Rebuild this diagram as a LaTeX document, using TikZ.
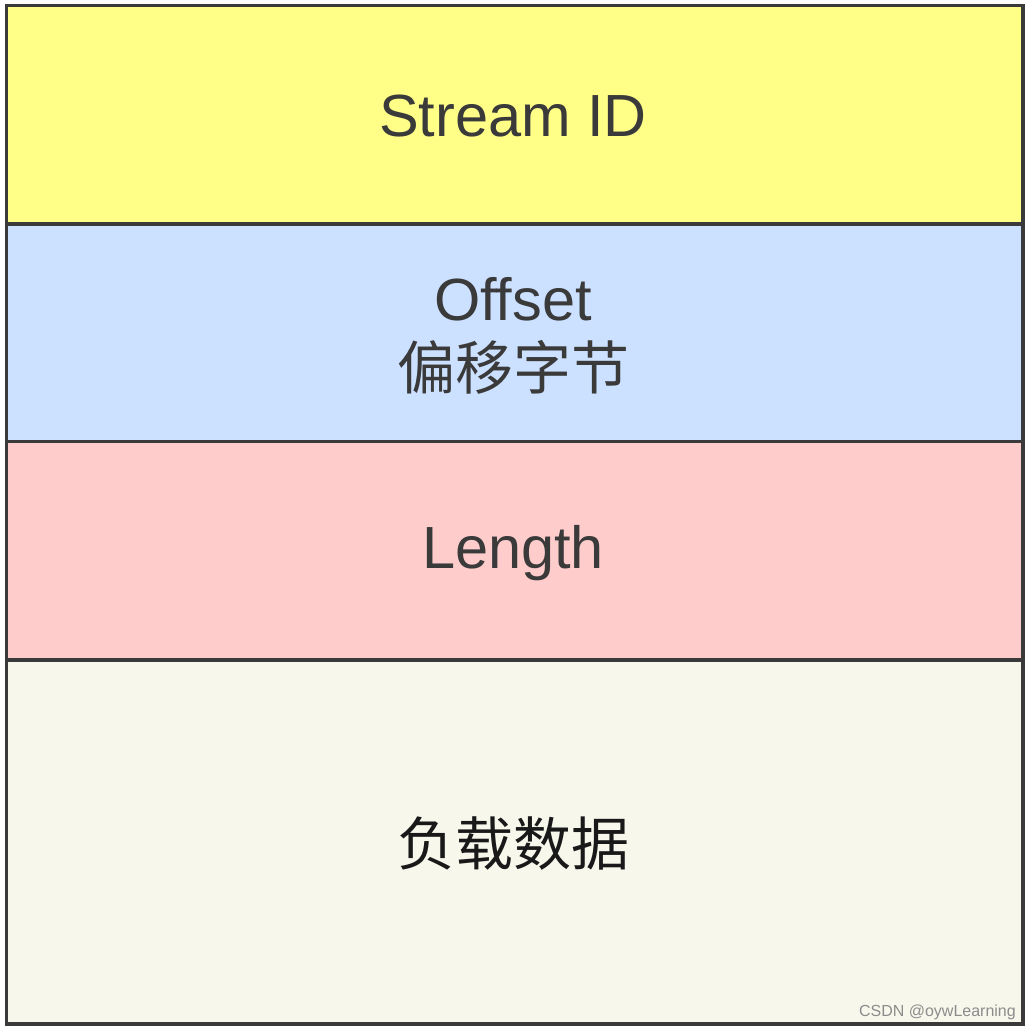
\documentclass[tikz,border=0pt]{standalone}
\usepackage{fontspec}
\setmainfont{Liberation Sans}
\newfontfamily\cjk{Noto Sans CJK SC}
\definecolor{cyel}{RGB}{255,255,136}
\definecolor{cblu}{RGB}{204,224,255}
\definecolor{cpnk}{RGB}{255,204,204}
\definecolor{cbei}{RGB}{247,247,236}
\definecolor{cline}{RGB}{58,58,58}
\definecolor{ctext}{RGB}{58,58,58}
\begin{document}
\begin{tikzpicture}[x=1pt,y=-1pt,
  band/.style={draw=cline,line width=3.5pt},
  lbl/.style={text=ctext,font=\fontsize{59.5}{68}\selectfont,align=center,inner sep=0pt},
  cjklbl/.style={text=black!90,font=\cjk\fontsize{58}{66}\selectfont,inner sep=0pt},
  wm/.style={text=black!45,font=\fontsize{16}{18}\selectfont,anchor=east,inner sep=0pt}]
\useasboundingbox (0,0) rectangle (1032,1031);
\fill[cyel] (6.5,5.5) rectangle (1023,224);
\fill[cblu] (6.5,224) rectangle (1023,441.5);
\fill[cpnk] (6.5,441.5) rectangle (1023,660);
\fill[cbei] (6.5,660) rectangle (1023,1024);
\draw[band] (6.5,224) -- (1023,224);
\draw[band] (6.5,441.5) -- (1023,441.5);
\draw[band] (6.5,660) -- (1023,660);
\draw[band] (6.5,5.5) rectangle (1023,1024);
\node[lbl] (sid) at (513,116) {Stream ID};
\node[lbl] (off) at (513,299) {Offset};
\node[cjklbl,text=ctext] (offc) at (513,367) {偏移字节};
\node[lbl] (len) at (513,553) {Length};
\node[cjklbl] (pay) at (513,844) {负载数据};
\node[wm] (mark) at (1016,1012) {CSDN @oywLearning};
\end{tikzpicture}
\end{document}
